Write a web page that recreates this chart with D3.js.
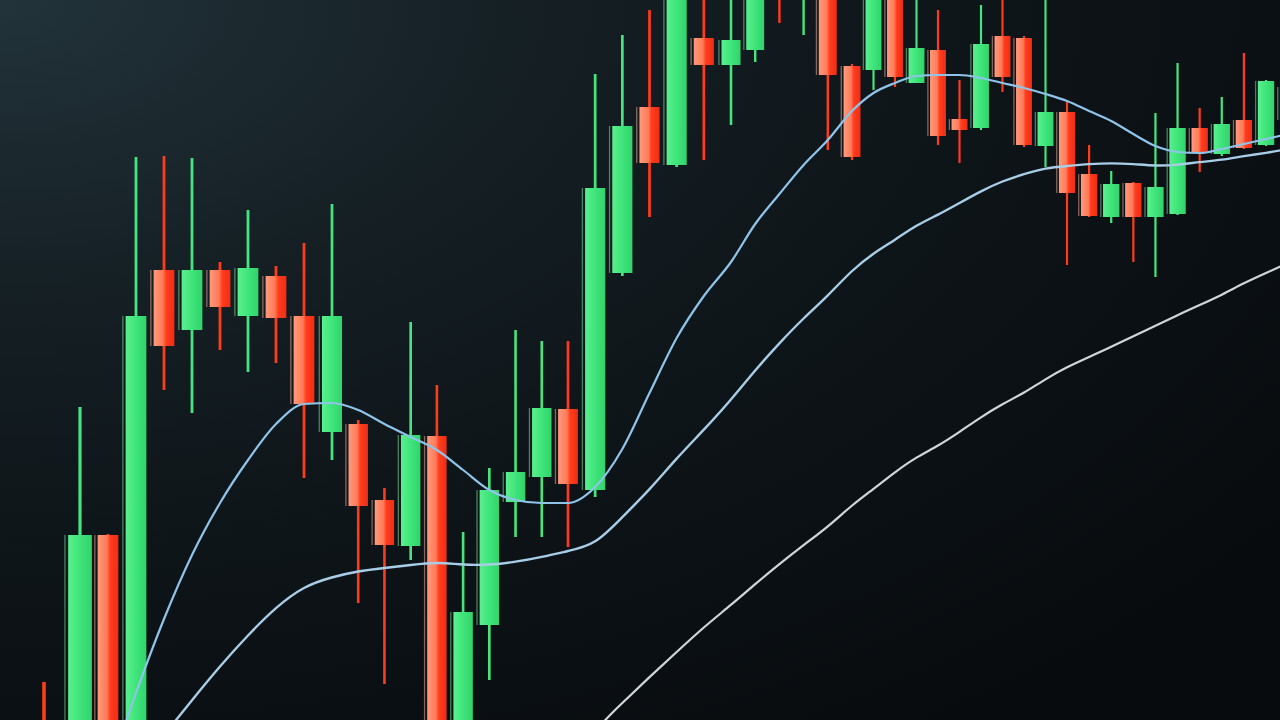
<!DOCTYPE html>
<html>
<head>
<meta charset="utf-8">
<script src="https://cdn.jsdelivr.net/npm/d3@7/dist/d3.min.js"></script>
<style>
  html, body { margin: 0; padding: 0; background: #0d1316; overflow: hidden; }
  svg { display: block; }
</style>
</head>
<body>
<svg id="chart" width="1280" height="720"></svg>
<script>
// ---------- DATA (price units) ----------
const sessions = d3.range(51);
const openP  = [99.5,96.0,118.5,98.0,145.0,139.0,145.0,140.4,144.4,140.4,128.8,129.6,122.0,117.4,128.4,98.0,109.5,121.8,124.3,131.1,
                123.0,144.7,161.3,155.5,168.2,165.5,167.0,178.0,173.0,176.0,165.4,165.0,175.0,163.7,167.0,160.1,159.2,168.4,168.2,157.4,
                160.8,154.6,150.3,153.7,150.3,150.6,159.2,156.6,160.0,157.5,160.0];
const highP  = [103.8,131.3,118.6,156.3,156.4,156.2,145.8,151.0,145.4,147.7,151.6,130.0,123.2,139.8,133.5,118.8,125.2,139.0,137.9,137.9,
                164.6,168.5,171.0,176.0,174.0,174.5,177.0,180.0,178.0,178.0,165.6,177.0,177.0,174.0,171.0,164.0,171.5,173.0,168.4,173.0,
                162.0,157.5,154.9,153.8,160.7,165.7,161.2,162.3,166.7,164.0,163.5];
const lowP   = [95.5,94.0,95.0,96.0,133.0,130.7,137.0,134.8,135.7,124.2,126.0,111.7,103.6,116.0,96.0,96.0,104.0,118.3,118.3,117.3,
                122.3,144.4,150.3,155.3,156.0,159.5,165.8,169.7,168.5,157.0,156.0,163.0,163.3,163.7,157.5,155.7,159.0,162.8,157.3,155.3,
                145.5,150.3,149.7,145.8,144.3,150.5,154.8,156.4,157.1,157.4,159.8];
const closeP = [97.0,118.5,97.0,140.4,137.4,145.0,141.3,145.2,140.2,131.6,140.4,121.4,117.5,128.5,98.0,110.8,123.0,124.8,131.2,123.6,
                153.2,159.4,155.7,175.0,165.5,168.0,175.0,173.5,176.0,164.5,156.3,175.0,164.3,167.2,158.4,159.0,167.6,164.3,157.5,160.8,
                152.7,150.4,153.6,150.3,153.3,159.2,156.8,159.6,157.2,163.9,163.3];
// moving averages (fast, medium, slow)
const maFast = [null,null,94.5,102.7,110.1,116.5,121.7,126.0,129.6,131.6,131.7,131.0,129.6,128.3,127.0,125.0,123.0,122.0,121.7,121.7,
                123.3,127.1,132.7,138.2,142.4,145.8,149.6,152.6,155.5,158.0,160.9,162.7,163.7,164.4,164.5,164.5,164.2,163.7,163.2,162.6,
                161.9,160.9,159.9,158.6,157.4,156.8,156.7,157.1,157.6,158.1,158.6];
const maMid  = [null,null,null,95.0,98.5,102.0,105.4,108.5,111.3,113.4,114.3,114.9,115.2,115.5,115.8,115.5,115.5,115.8,116.3,116.9,
                117.5,120.3,123.0,126.2,129.0,132.0,135.0,137.7,140.2,142.4,145.0,146.7,148.0,149.5,150.5,151.7,152.9,153.9,154.6,155.2,
                155.4,155.6,155.7,155.6,155.4,155.5,155.8,156.0,156.4,156.7,157.1];
const maSlow = [null,null,null,null,null,null,null,null,null,null,null,null,null,null,null,null,null,null,null,95.0,
                99.1,101.7,104.3,106.8,109.3,111.5,113.6,115.6,117.5,119.3,121.5,123.1,124.8,126.3,127.4,128.8,130.3,131.6,132.7,134.1,
                135.3,136.3,137.3,138.4,139.4,140.5,141.5,142.5,143.7,144.7,145.7];
const yDomain = [100, 172];

// ---------- LAYOUT ----------
const W = 1280, H = 720;
const svg = d3.select("#chart");
const defs = svg.append("defs");

// background vignette
const bg = defs.append("radialGradient").attr("id","bg")
  .attr("cx","0").attr("cy","0").attr("r","1.25").attr("gradientUnits","objectBoundingBox");
bg.append("stop").attr("offset","0").attr("stop-color","#22333a");
bg.append("stop").attr("offset","0.35").attr("stop-color","#141e23");
bg.append("stop").attr("offset","0.7").attr("stop-color","#0c1216");
bg.append("stop").attr("offset","1").attr("stop-color","#080b0e");
svg.append("rect").attr("width",W).attr("height",H).attr("fill","url(#bg)");

const redGrad = defs.append("linearGradient").attr("id","redBody").attr("x1","0").attr("x2","1").attr("y1","0").attr("y2","0");
redGrad.append("stop").attr("offset","0").attr("stop-color","#ff9a7c");
redGrad.append("stop").attr("offset","0.45").attr("stop-color","#ff7a58");
redGrad.append("stop").attr("offset","0.6").attr("stop-color","#ff3d1e");
redGrad.append("stop").attr("offset","1").attr("stop-color","#f02c14");
const greenGrad = defs.append("linearGradient").attr("id","greenBody").attr("x1","0").attr("x2","1").attr("y1","0").attr("y2","0");
greenGrad.append("stop").attr("offset","0").attr("stop-color","#5af08e");
greenGrad.append("stop").attr("offset","0.5").attr("stop-color","#3fe47a");
greenGrad.append("stop").attr("offset","1").attr("stop-color","#30d46a");

const soft = defs.append("filter").attr("id","soft").attr("x","-5%").attr("y","-5%").attr("width","110%").attr("height","110%");
soft.append("feGaussianBlur").attr("stdDeviation","0.6");

const x = d3.scaleLinear()
  .domain([0, 1, 10, 19, 25, 30, 40, 49])
  .range([44, 80, 332, 568, 731, 852, 1067, 1266]);
const y = d3.scaleLinear().domain(yDomain).range([H, 0]);

const step = i => x(i + 0.5) - x(i - 0.5);

const candles = sessions.map(i => ({
  i, o: openP[i], h: highP[i], l: lowP[i], c: closeP[i], up: closeP[i] >= openP[i]
}));

const g = svg.append("g").attr("filter","url(#soft)");

// ghost (double exposure) lines beside bodies
g.append("g").selectAll("line").data(candles).join("line")
  .attr("x1", d => x(d.i) - step(d.i)*0.47)
  .attr("x2", d => x(d.i) - step(d.i)*0.47)
  .attr("y1", d => y(Math.max(d.o, d.c)))
  .attr("y2", d => y(Math.min(d.o, d.c)))
  .attr("stroke", d => d.up ? "#7ff0a8" : "#ffb7a0")
  .attr("stroke-opacity", 0.5)
  .attr("stroke-width", 1.3);

// wicks
g.append("g").selectAll("line").data(candles).join("line")
  .attr("x1", d => x(d.i)).attr("x2", d => x(d.i))
  .attr("y1", d => y(d.h)).attr("y2", d => y(d.l))
  .attr("stroke", d => d.up ? "#45e47e" : "#ff3a1c")
  .attr("stroke-width", d => Math.max(2, step(d.i)*0.1));

// bodies
g.append("g").selectAll("rect").data(candles).join("rect")
  .attr("x", d => x(d.i) - step(d.i)*0.37)
  .attr("width", d => step(d.i)*0.74)
  .attr("y", d => y(Math.max(d.o, d.c)))
  .attr("height", d => Math.max(2, Math.abs(y(d.o) - y(d.c))))
  .attr("fill", d => d.up ? "url(#greenBody)" : "url(#redBody)");

// moving averages
const line = (arr, curve) => d3.line()
  .defined(i => arr[i] != null)
  .x(i => x(i))
  .y(i => y(arr[i]))
  .curve(curve)(sessions);

const mas = [
  { data: maSlow, color: "#cfd6da", w: 2.2, curve: d3.curveBasis },
  { data: maMid,  color: "#a8cde6", w: 2.4, curve: d3.curveBasis },
  { data: maFast, color: "#8fc4ea", w: 2.2, curve: d3.curveMonotoneX }
];
g.append("g").selectAll("path").data(mas).join("path")
  .attr("d", d => line(d.data, d.curve))
  .attr("fill","none")
  .attr("stroke", d => d.color)
  .attr("stroke-width", d => d.w)
  .attr("stroke-linecap","round");
</script>
</body>
</html>
